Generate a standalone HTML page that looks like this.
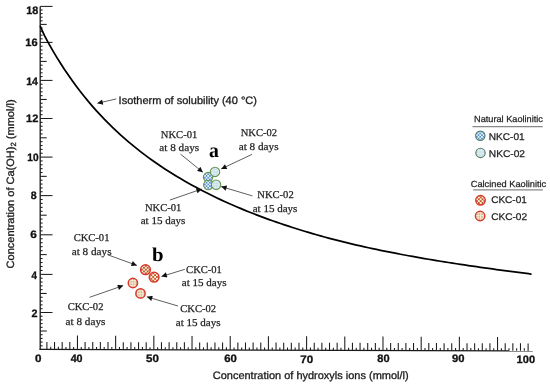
<!DOCTYPE html><html><head><meta charset="utf-8"><title>Ca(OH)2 solubility isotherm</title><style>html,body{margin:0;padding:0;background:#fff;overflow:hidden}svg{display:block}text{text-rendering:geometricPrecision}</style></head><body>
<svg width="550" height="385" viewBox="0 0 550 385">
<defs>
<pattern id="pN1" width="3.4" height="3.4" patternUnits="userSpaceOnUse"><rect width="3.4" height="3.4" fill="#f2f7fb"/><rect width="1.7" height="1.7" fill="#5693d0"/><rect x="1.7" y="1.7" width="1.7" height="1.7" fill="#5693d0"/></pattern>
<pattern id="pN2" width="2.8" height="2.8" patternUnits="userSpaceOnUse"><rect width="2.8" height="2.8" fill="#dcedf3"/><rect x="0.5" y="0.5" width="1.0" height="1.0" fill="#9db7cc"/></pattern>
<pattern id="pC1" width="3.7" height="3.7" patternUnits="userSpaceOnUse" x="0.6" y="0.4"><rect width="3.7" height="3.7" fill="#c25a22"/><rect width="1.85" height="1.85" fill="#fcf3ea"/><rect x="1.85" y="1.85" width="1.85" height="1.85" fill="#fcf3ea"/></pattern>
<pattern id="pC2" width="2.6" height="2.6" patternUnits="userSpaceOnUse"><rect width="2.6" height="2.6" fill="#f3e9d4"/><rect x="0.4" y="0.4" width="1.3" height="1.3" fill="#c79a68"/></pattern>
<marker id="ah" viewBox="0 0 10 10" refX="10" refY="5" markerWidth="7" markerHeight="5.4" markerUnits="userSpaceOnUse" orient="auto"><path d="M0,0 L10,5 L0,10 z" fill="#111"/></marker>
</defs>
<g stroke="#1a1a1a" fill="none">
<line x1="40.2" y1="6.4" x2="40.2" y2="350.00" stroke-width="1.3"/>
<line x1="39.6" y1="349.40" x2="532.7" y2="350.90" stroke-width="1.3"/>
<line x1="40.2" y1="345.80" x2="42.60" y2="345.80" stroke-width="1.05"/>
<line x1="40.2" y1="342.10" x2="42.60" y2="342.10" stroke-width="1.05"/>
<line x1="40.2" y1="338.40" x2="42.60" y2="338.40" stroke-width="1.05"/>
<line x1="40.2" y1="334.70" x2="42.60" y2="334.70" stroke-width="1.05"/>
<line x1="40.2" y1="331.00" x2="46.70" y2="331.00" stroke-width="1.05"/>
<line x1="40.2" y1="327.30" x2="42.60" y2="327.30" stroke-width="1.05"/>
<line x1="40.2" y1="323.60" x2="42.60" y2="323.60" stroke-width="1.05"/>
<line x1="40.2" y1="319.90" x2="42.60" y2="319.90" stroke-width="1.05"/>
<line x1="40.2" y1="316.20" x2="42.60" y2="316.20" stroke-width="1.05"/>
<line x1="40.2" y1="312.50" x2="52.50" y2="312.50" stroke-width="1.05"/>
<line x1="40.2" y1="308.69" x2="42.60" y2="308.69" stroke-width="1.05"/>
<line x1="40.2" y1="304.88" x2="42.60" y2="304.88" stroke-width="1.05"/>
<line x1="40.2" y1="301.07" x2="42.60" y2="301.07" stroke-width="1.05"/>
<line x1="40.2" y1="297.26" x2="42.60" y2="297.26" stroke-width="1.05"/>
<line x1="40.2" y1="293.45" x2="46.70" y2="293.45" stroke-width="1.05"/>
<line x1="40.2" y1="289.64" x2="42.60" y2="289.64" stroke-width="1.05"/>
<line x1="40.2" y1="285.83" x2="42.60" y2="285.83" stroke-width="1.05"/>
<line x1="40.2" y1="282.02" x2="42.60" y2="282.02" stroke-width="1.05"/>
<line x1="40.2" y1="278.21" x2="42.60" y2="278.21" stroke-width="1.05"/>
<line x1="40.2" y1="274.40" x2="52.50" y2="274.40" stroke-width="1.05"/>
<line x1="40.2" y1="270.44" x2="42.60" y2="270.44" stroke-width="1.05"/>
<line x1="40.2" y1="266.48" x2="42.60" y2="266.48" stroke-width="1.05"/>
<line x1="40.2" y1="262.52" x2="42.60" y2="262.52" stroke-width="1.05"/>
<line x1="40.2" y1="258.56" x2="42.60" y2="258.56" stroke-width="1.05"/>
<line x1="40.2" y1="254.60" x2="46.70" y2="254.60" stroke-width="1.05"/>
<line x1="40.2" y1="250.64" x2="42.60" y2="250.64" stroke-width="1.05"/>
<line x1="40.2" y1="246.68" x2="42.60" y2="246.68" stroke-width="1.05"/>
<line x1="40.2" y1="242.72" x2="42.60" y2="242.72" stroke-width="1.05"/>
<line x1="40.2" y1="238.76" x2="42.60" y2="238.76" stroke-width="1.05"/>
<line x1="40.2" y1="234.80" x2="52.50" y2="234.80" stroke-width="1.05"/>
<line x1="40.2" y1="230.88" x2="42.60" y2="230.88" stroke-width="1.05"/>
<line x1="40.2" y1="226.96" x2="42.60" y2="226.96" stroke-width="1.05"/>
<line x1="40.2" y1="223.04" x2="42.60" y2="223.04" stroke-width="1.05"/>
<line x1="40.2" y1="219.12" x2="42.60" y2="219.12" stroke-width="1.05"/>
<line x1="40.2" y1="215.20" x2="46.70" y2="215.20" stroke-width="1.05"/>
<line x1="40.2" y1="211.28" x2="42.60" y2="211.28" stroke-width="1.05"/>
<line x1="40.2" y1="207.36" x2="42.60" y2="207.36" stroke-width="1.05"/>
<line x1="40.2" y1="203.44" x2="42.60" y2="203.44" stroke-width="1.05"/>
<line x1="40.2" y1="199.52" x2="42.60" y2="199.52" stroke-width="1.05"/>
<line x1="40.2" y1="195.60" x2="52.50" y2="195.60" stroke-width="1.05"/>
<line x1="40.2" y1="191.75" x2="42.60" y2="191.75" stroke-width="1.05"/>
<line x1="40.2" y1="187.90" x2="42.60" y2="187.90" stroke-width="1.05"/>
<line x1="40.2" y1="184.05" x2="42.60" y2="184.05" stroke-width="1.05"/>
<line x1="40.2" y1="180.20" x2="42.60" y2="180.20" stroke-width="1.05"/>
<line x1="40.2" y1="176.35" x2="46.70" y2="176.35" stroke-width="1.05"/>
<line x1="40.2" y1="172.50" x2="42.60" y2="172.50" stroke-width="1.05"/>
<line x1="40.2" y1="168.65" x2="42.60" y2="168.65" stroke-width="1.05"/>
<line x1="40.2" y1="164.80" x2="42.60" y2="164.80" stroke-width="1.05"/>
<line x1="40.2" y1="160.95" x2="42.60" y2="160.95" stroke-width="1.05"/>
<line x1="40.2" y1="157.10" x2="52.50" y2="157.10" stroke-width="1.05"/>
<line x1="40.2" y1="153.24" x2="42.60" y2="153.24" stroke-width="1.05"/>
<line x1="40.2" y1="149.38" x2="42.60" y2="149.38" stroke-width="1.05"/>
<line x1="40.2" y1="145.52" x2="42.60" y2="145.52" stroke-width="1.05"/>
<line x1="40.2" y1="141.66" x2="42.60" y2="141.66" stroke-width="1.05"/>
<line x1="40.2" y1="137.80" x2="46.70" y2="137.80" stroke-width="1.05"/>
<line x1="40.2" y1="133.94" x2="42.60" y2="133.94" stroke-width="1.05"/>
<line x1="40.2" y1="130.08" x2="42.60" y2="130.08" stroke-width="1.05"/>
<line x1="40.2" y1="126.22" x2="42.60" y2="126.22" stroke-width="1.05"/>
<line x1="40.2" y1="122.36" x2="42.60" y2="122.36" stroke-width="1.05"/>
<line x1="40.2" y1="118.50" x2="52.50" y2="118.50" stroke-width="1.05"/>
<line x1="40.2" y1="114.69" x2="42.60" y2="114.69" stroke-width="1.05"/>
<line x1="40.2" y1="110.88" x2="42.60" y2="110.88" stroke-width="1.05"/>
<line x1="40.2" y1="107.07" x2="42.60" y2="107.07" stroke-width="1.05"/>
<line x1="40.2" y1="103.26" x2="42.60" y2="103.26" stroke-width="1.05"/>
<line x1="40.2" y1="99.45" x2="46.70" y2="99.45" stroke-width="1.05"/>
<line x1="40.2" y1="95.64" x2="42.60" y2="95.64" stroke-width="1.05"/>
<line x1="40.2" y1="91.83" x2="42.60" y2="91.83" stroke-width="1.05"/>
<line x1="40.2" y1="88.02" x2="42.60" y2="88.02" stroke-width="1.05"/>
<line x1="40.2" y1="84.21" x2="42.60" y2="84.21" stroke-width="1.05"/>
<line x1="40.2" y1="80.40" x2="52.50" y2="80.40" stroke-width="1.05"/>
<line x1="40.2" y1="76.60" x2="42.60" y2="76.60" stroke-width="1.05"/>
<line x1="40.2" y1="72.80" x2="42.60" y2="72.80" stroke-width="1.05"/>
<line x1="40.2" y1="69.00" x2="42.60" y2="69.00" stroke-width="1.05"/>
<line x1="40.2" y1="65.20" x2="42.60" y2="65.20" stroke-width="1.05"/>
<line x1="40.2" y1="61.40" x2="46.70" y2="61.40" stroke-width="1.05"/>
<line x1="40.2" y1="57.60" x2="42.60" y2="57.60" stroke-width="1.05"/>
<line x1="40.2" y1="53.80" x2="42.60" y2="53.80" stroke-width="1.05"/>
<line x1="40.2" y1="50.00" x2="42.60" y2="50.00" stroke-width="1.05"/>
<line x1="40.2" y1="46.20" x2="42.60" y2="46.20" stroke-width="1.05"/>
<line x1="40.2" y1="42.40" x2="52.50" y2="42.40" stroke-width="1.05"/>
<line x1="40.2" y1="38.80" x2="42.60" y2="38.80" stroke-width="1.05"/>
<line x1="40.2" y1="35.20" x2="42.60" y2="35.20" stroke-width="1.05"/>
<line x1="40.2" y1="31.60" x2="42.60" y2="31.60" stroke-width="1.05"/>
<line x1="40.2" y1="28.00" x2="42.60" y2="28.00" stroke-width="1.05"/>
<line x1="40.2" y1="24.40" x2="46.70" y2="24.40" stroke-width="1.05"/>
<line x1="40.2" y1="20.80" x2="42.60" y2="20.80" stroke-width="1.05"/>
<line x1="40.2" y1="17.20" x2="42.60" y2="17.20" stroke-width="1.05"/>
<line x1="40.2" y1="13.60" x2="42.60" y2="13.60" stroke-width="1.05"/>
<line x1="40.2" y1="10.00" x2="42.60" y2="10.00" stroke-width="1.05"/>
<line x1="40.2" y1="6.40" x2="52.50" y2="6.40" stroke-width="1.05"/>
<line x1="46.90" y1="349.42" x2="46.90" y2="341.92" stroke-width="1.05"/>
<line x1="50.72" y1="349.43" x2="50.72" y2="346.83" stroke-width="1.05"/>
<line x1="54.54" y1="349.44" x2="54.54" y2="341.94" stroke-width="1.05"/>
<line x1="58.36" y1="349.46" x2="58.36" y2="346.86" stroke-width="1.05"/>
<line x1="62.18" y1="349.47" x2="62.18" y2="341.97" stroke-width="1.05"/>
<line x1="65.99" y1="349.48" x2="65.99" y2="346.88" stroke-width="1.05"/>
<line x1="69.81" y1="349.49" x2="69.81" y2="341.99" stroke-width="1.05"/>
<line x1="73.63" y1="349.50" x2="73.63" y2="346.90" stroke-width="1.05"/>
<line x1="77.45" y1="349.51" x2="77.45" y2="335.61" stroke-width="1.05"/>
<line x1="81.27" y1="349.53" x2="81.27" y2="346.93" stroke-width="1.05"/>
<line x1="85.09" y1="349.54" x2="85.09" y2="342.04" stroke-width="1.05"/>
<line x1="88.91" y1="349.55" x2="88.91" y2="346.95" stroke-width="1.05"/>
<line x1="92.73" y1="349.56" x2="92.73" y2="342.06" stroke-width="1.05"/>
<line x1="96.55" y1="349.57" x2="96.55" y2="346.97" stroke-width="1.05"/>
<line x1="100.37" y1="349.58" x2="100.37" y2="342.08" stroke-width="1.05"/>
<line x1="104.19" y1="349.59" x2="104.19" y2="346.99" stroke-width="1.05"/>
<line x1="108.01" y1="349.61" x2="108.01" y2="342.11" stroke-width="1.05"/>
<line x1="111.82" y1="349.62" x2="111.82" y2="347.02" stroke-width="1.05"/>
<line x1="115.64" y1="349.63" x2="115.64" y2="335.73" stroke-width="1.05"/>
<line x1="119.46" y1="349.64" x2="119.46" y2="347.04" stroke-width="1.05"/>
<line x1="123.28" y1="349.65" x2="123.28" y2="342.15" stroke-width="1.05"/>
<line x1="127.10" y1="349.66" x2="127.10" y2="347.06" stroke-width="1.05"/>
<line x1="130.92" y1="349.68" x2="130.92" y2="342.18" stroke-width="1.05"/>
<line x1="134.74" y1="349.69" x2="134.74" y2="347.09" stroke-width="1.05"/>
<line x1="138.56" y1="349.70" x2="138.56" y2="342.20" stroke-width="1.05"/>
<line x1="142.38" y1="349.71" x2="142.38" y2="347.11" stroke-width="1.05"/>
<line x1="146.20" y1="349.72" x2="146.20" y2="342.22" stroke-width="1.05"/>
<line x1="150.02" y1="349.73" x2="150.02" y2="347.13" stroke-width="1.05"/>
<line x1="153.84" y1="349.75" x2="153.84" y2="335.85" stroke-width="1.05"/>
<line x1="157.65" y1="349.76" x2="157.65" y2="347.16" stroke-width="1.05"/>
<line x1="161.47" y1="349.77" x2="161.47" y2="342.27" stroke-width="1.05"/>
<line x1="165.29" y1="349.78" x2="165.29" y2="347.18" stroke-width="1.05"/>
<line x1="169.11" y1="349.79" x2="169.11" y2="342.29" stroke-width="1.05"/>
<line x1="172.93" y1="349.80" x2="172.93" y2="347.20" stroke-width="1.05"/>
<line x1="176.75" y1="349.82" x2="176.75" y2="342.32" stroke-width="1.05"/>
<line x1="180.57" y1="349.83" x2="180.57" y2="347.23" stroke-width="1.05"/>
<line x1="184.39" y1="349.84" x2="184.39" y2="342.34" stroke-width="1.05"/>
<line x1="188.21" y1="349.85" x2="188.21" y2="347.25" stroke-width="1.05"/>
<line x1="192.03" y1="349.86" x2="192.03" y2="335.96" stroke-width="1.05"/>
<line x1="195.85" y1="349.87" x2="195.85" y2="347.27" stroke-width="1.05"/>
<line x1="199.66" y1="349.89" x2="199.66" y2="342.39" stroke-width="1.05"/>
<line x1="203.48" y1="349.90" x2="203.48" y2="347.30" stroke-width="1.05"/>
<line x1="207.30" y1="349.91" x2="207.30" y2="342.41" stroke-width="1.05"/>
<line x1="211.12" y1="349.92" x2="211.12" y2="347.32" stroke-width="1.05"/>
<line x1="214.94" y1="349.93" x2="214.94" y2="342.43" stroke-width="1.05"/>
<line x1="218.76" y1="349.94" x2="218.76" y2="347.34" stroke-width="1.05"/>
<line x1="222.58" y1="349.96" x2="222.58" y2="342.46" stroke-width="1.05"/>
<line x1="226.40" y1="349.97" x2="226.40" y2="347.37" stroke-width="1.05"/>
<line x1="230.22" y1="349.98" x2="230.22" y2="336.08" stroke-width="1.05"/>
<line x1="234.04" y1="349.99" x2="234.04" y2="347.39" stroke-width="1.05"/>
<line x1="237.86" y1="350.00" x2="237.86" y2="342.50" stroke-width="1.05"/>
<line x1="241.68" y1="350.01" x2="241.68" y2="347.41" stroke-width="1.05"/>
<line x1="245.49" y1="350.03" x2="245.49" y2="342.53" stroke-width="1.05"/>
<line x1="249.31" y1="350.04" x2="249.31" y2="347.44" stroke-width="1.05"/>
<line x1="253.13" y1="350.05" x2="253.13" y2="342.55" stroke-width="1.05"/>
<line x1="256.95" y1="350.06" x2="256.95" y2="347.46" stroke-width="1.05"/>
<line x1="260.77" y1="350.07" x2="260.77" y2="342.57" stroke-width="1.05"/>
<line x1="264.59" y1="350.08" x2="264.59" y2="347.48" stroke-width="1.05"/>
<line x1="268.41" y1="350.10" x2="268.41" y2="336.20" stroke-width="1.05"/>
<line x1="272.23" y1="350.11" x2="272.23" y2="347.51" stroke-width="1.05"/>
<line x1="276.05" y1="350.12" x2="276.05" y2="342.62" stroke-width="1.05"/>
<line x1="279.87" y1="350.13" x2="279.87" y2="347.53" stroke-width="1.05"/>
<line x1="283.69" y1="350.14" x2="283.69" y2="342.64" stroke-width="1.05"/>
<line x1="287.51" y1="350.15" x2="287.51" y2="347.55" stroke-width="1.05"/>
<line x1="291.32" y1="350.16" x2="291.32" y2="342.66" stroke-width="1.05"/>
<line x1="295.14" y1="350.18" x2="295.14" y2="347.58" stroke-width="1.05"/>
<line x1="298.96" y1="350.19" x2="298.96" y2="342.69" stroke-width="1.05"/>
<line x1="302.78" y1="350.20" x2="302.78" y2="347.60" stroke-width="1.05"/>
<line x1="306.60" y1="350.21" x2="306.60" y2="336.31" stroke-width="1.05"/>
<line x1="310.42" y1="350.22" x2="310.42" y2="347.62" stroke-width="1.05"/>
<line x1="314.24" y1="350.23" x2="314.24" y2="342.73" stroke-width="1.05"/>
<line x1="318.06" y1="350.25" x2="318.06" y2="347.65" stroke-width="1.05"/>
<line x1="321.88" y1="350.26" x2="321.88" y2="342.76" stroke-width="1.05"/>
<line x1="325.70" y1="350.27" x2="325.70" y2="347.67" stroke-width="1.05"/>
<line x1="329.52" y1="350.28" x2="329.52" y2="342.78" stroke-width="1.05"/>
<line x1="333.34" y1="350.29" x2="333.34" y2="347.69" stroke-width="1.05"/>
<line x1="337.15" y1="350.30" x2="337.15" y2="342.80" stroke-width="1.05"/>
<line x1="340.97" y1="350.32" x2="340.97" y2="347.72" stroke-width="1.05"/>
<line x1="344.79" y1="350.33" x2="344.79" y2="336.43" stroke-width="1.05"/>
<line x1="348.61" y1="350.34" x2="348.61" y2="347.74" stroke-width="1.05"/>
<line x1="352.43" y1="350.35" x2="352.43" y2="342.85" stroke-width="1.05"/>
<line x1="356.25" y1="350.36" x2="356.25" y2="347.76" stroke-width="1.05"/>
<line x1="360.07" y1="350.37" x2="360.07" y2="342.87" stroke-width="1.05"/>
<line x1="363.89" y1="350.39" x2="363.89" y2="347.79" stroke-width="1.05"/>
<line x1="367.71" y1="350.40" x2="367.71" y2="342.90" stroke-width="1.05"/>
<line x1="371.53" y1="350.41" x2="371.53" y2="347.81" stroke-width="1.05"/>
<line x1="375.35" y1="350.42" x2="375.35" y2="342.92" stroke-width="1.05"/>
<line x1="379.16" y1="350.43" x2="379.16" y2="347.83" stroke-width="1.05"/>
<line x1="382.98" y1="350.44" x2="382.98" y2="336.54" stroke-width="1.05"/>
<line x1="386.80" y1="350.46" x2="386.80" y2="347.86" stroke-width="1.05"/>
<line x1="390.62" y1="350.47" x2="390.62" y2="342.97" stroke-width="1.05"/>
<line x1="394.44" y1="350.48" x2="394.44" y2="347.88" stroke-width="1.05"/>
<line x1="398.26" y1="350.49" x2="398.26" y2="342.99" stroke-width="1.05"/>
<line x1="402.08" y1="350.50" x2="402.08" y2="347.90" stroke-width="1.05"/>
<line x1="405.90" y1="350.51" x2="405.90" y2="343.01" stroke-width="1.05"/>
<line x1="409.72" y1="350.53" x2="409.72" y2="347.93" stroke-width="1.05"/>
<line x1="413.54" y1="350.54" x2="413.54" y2="343.04" stroke-width="1.05"/>
<line x1="417.36" y1="350.55" x2="417.36" y2="347.95" stroke-width="1.05"/>
<line x1="421.18" y1="350.56" x2="421.18" y2="336.66" stroke-width="1.05"/>
<line x1="424.99" y1="350.57" x2="424.99" y2="347.97" stroke-width="1.05"/>
<line x1="428.81" y1="350.58" x2="428.81" y2="343.08" stroke-width="1.05"/>
<line x1="432.63" y1="350.60" x2="432.63" y2="348.00" stroke-width="1.05"/>
<line x1="436.45" y1="350.61" x2="436.45" y2="343.11" stroke-width="1.05"/>
<line x1="440.27" y1="350.62" x2="440.27" y2="348.02" stroke-width="1.05"/>
<line x1="444.09" y1="350.63" x2="444.09" y2="343.13" stroke-width="1.05"/>
<line x1="447.91" y1="350.64" x2="447.91" y2="348.04" stroke-width="1.05"/>
<line x1="451.73" y1="350.65" x2="451.73" y2="343.15" stroke-width="1.05"/>
<line x1="455.55" y1="350.67" x2="455.55" y2="348.07" stroke-width="1.05"/>
<line x1="459.37" y1="350.68" x2="459.37" y2="336.78" stroke-width="1.05"/>
<line x1="463.19" y1="350.69" x2="463.19" y2="348.09" stroke-width="1.05"/>
<line x1="467.01" y1="350.70" x2="467.01" y2="343.20" stroke-width="1.05"/>
<line x1="470.82" y1="350.71" x2="470.82" y2="348.11" stroke-width="1.05"/>
<line x1="474.64" y1="350.72" x2="474.64" y2="343.22" stroke-width="1.05"/>
<line x1="478.46" y1="350.73" x2="478.46" y2="348.13" stroke-width="1.05"/>
<line x1="482.28" y1="350.75" x2="482.28" y2="343.25" stroke-width="1.05"/>
<line x1="486.10" y1="350.76" x2="486.10" y2="348.16" stroke-width="1.05"/>
<line x1="489.92" y1="350.77" x2="489.92" y2="343.27" stroke-width="1.05"/>
<line x1="493.74" y1="350.78" x2="493.74" y2="348.18" stroke-width="1.05"/>
<line x1="497.56" y1="350.79" x2="497.56" y2="336.89" stroke-width="1.05"/>
<line x1="501.38" y1="350.80" x2="501.38" y2="348.20" stroke-width="1.05"/>
<line x1="505.20" y1="350.82" x2="505.20" y2="343.32" stroke-width="1.05"/>
<line x1="509.02" y1="350.83" x2="509.02" y2="348.23" stroke-width="1.05"/>
<line x1="512.84" y1="350.84" x2="512.84" y2="343.34" stroke-width="1.05"/>
<line x1="516.65" y1="350.85" x2="516.65" y2="348.25" stroke-width="1.05"/>
<line x1="520.47" y1="350.86" x2="520.47" y2="343.36" stroke-width="1.05"/>
<line x1="524.29" y1="350.87" x2="524.29" y2="348.27" stroke-width="1.05"/>
<line x1="528.11" y1="350.89" x2="528.11" y2="343.39" stroke-width="1.05"/>
</g>
<path d="M40.40,26.5 L44.50,35.70 L48.50,43.06 L52.50,50.10 L56.50,56.83 L60.50,63.27 L64.50,69.44 L68.50,75.35 L72.50,81.03 L76.50,86.49 L80.50,91.73 L84.50,96.78 L88.50,101.64 L92.50,106.32 L96.50,110.83 L100.50,115.18 L104.50,119.39 L108.50,123.45 L112.50,127.37 L116.50,131.17 L120.50,134.85 L124.50,138.40 L128.50,141.85 L132.50,145.20 L136.50,148.44 L140.50,151.58 L144.50,154.64 L148.50,157.60 L152.50,160.49 L156.50,163.29 L160.50,166.02 L164.50,168.67 L168.50,171.26 L172.50,173.77 L176.50,176.22 L180.50,178.61 L184.50,180.94 L188.50,183.22 L192.50,185.44 L196.50,187.60 L200.50,189.72 L204.50,191.79 L208.50,193.80 L212.50,195.78 L216.50,197.71 L220.50,199.59 L224.50,201.44 L228.50,203.24 L232.50,205.01 L236.50,206.74 L240.50,208.43 L244.50,210.08 L248.50,211.70 L252.50,213.29 L256.50,214.85 L260.50,216.37 L264.50,217.86 L268.50,219.32 L272.50,220.76 L276.50,222.16 L280.50,223.53 L284.50,224.88 L288.50,226.20 L292.50,227.50 L296.50,228.77 L300.50,230.01 L304.50,231.23 L308.50,232.42 L312.50,233.59 L316.50,234.74 L320.50,235.87 L324.50,236.97 L328.50,238.05 L332.50,239.11 L336.50,240.14 L340.50,241.16 L344.50,242.16 L348.50,243.13 L352.50,244.09 L356.50,245.03 L360.50,245.95 L364.50,246.85 L368.50,247.73 L372.50,248.60 L376.50,249.45 L380.50,250.29 L384.50,251.11 L388.50,251.92 L392.50,252.71 L396.50,253.48 L400.50,254.25 L404.50,255.00 L408.50,255.74 L412.50,256.47 L416.50,257.18 L420.50,257.88 L424.50,258.57 L428.50,259.25 L432.50,259.93 L436.50,260.59 L440.50,261.24 L444.50,261.88 L448.50,262.51 L452.50,263.13 L456.50,263.75 L460.50,264.36 L464.50,264.95 L468.50,265.55 L472.50,266.13 L476.50,266.71 L480.50,267.28 L484.50,267.85 L488.50,268.40 L492.50,268.96 L496.50,269.51 L500.50,270.05 L504.50,270.59 L508.50,271.12 L512.50,271.65 L516.50,272.18 L520.50,272.70 L524.50,273.21 L528.50,273.73 L530.90,274.04" fill="none" stroke="#000" stroke-width="1.75" stroke-linecap="round" stroke-linejoin="round"/>
<g stroke="#2a2a2a" stroke-width="0.75" fill="none">
<line x1="116.3" y1="98.9" x2="97.4" y2="103.3" marker-end="url(#ah)"/>
<line x1="180.5" y1="154.1" x2="202.9" y2="172.3" marker-end="url(#ah)"/>
<line x1="252" y1="154.4" x2="221.2" y2="168.9" marker-end="url(#ah)"/>
<line x1="252.4" y1="195.9" x2="221.2" y2="186.6" marker-end="url(#ah)"/>
<line x1="169.8" y1="200.1" x2="201.8" y2="189" marker-end="url(#ah)"/>
<line x1="108.3" y1="255" x2="136.9" y2="265.4" marker-end="url(#ah)"/>
<line x1="184.8" y1="269.3" x2="161.5" y2="276.5" marker-end="url(#ah)"/>
<line x1="89.6" y1="297.3" x2="123.2" y2="285.6" marker-end="url(#ah)"/>
<line x1="178" y1="306" x2="146.9" y2="296.8" marker-end="url(#ah)"/>
</g>
<circle cx="208.1" cy="177.1" r="4.7" fill="url(#pN1)" stroke="#62964f" stroke-width="1.1"/>
<circle cx="215" cy="171.9" r="4.7" fill="url(#pN2)" stroke="#62964f" stroke-width="1.1"/>
<circle cx="208.3" cy="185" r="4.7" fill="url(#pN1)" stroke="#62964f" stroke-width="1.1"/>
<circle cx="216.1" cy="184.7" r="4.7" fill="url(#pN2)" stroke="#62964f" stroke-width="1.1"/>
<circle cx="145.5" cy="269.7" r="4.85" fill="url(#pC1)" stroke="#d73a2b" stroke-width="1.5"/>
<circle cx="154.1" cy="277.2" r="4.85" fill="url(#pC1)" stroke="#d73a2b" stroke-width="1.5"/>
<circle cx="132.9" cy="283.0" r="4.65" fill="url(#pC2)" stroke="#d6392d" stroke-width="1.5"/>
<circle cx="140.5" cy="293.4" r="4.65" fill="url(#pC2)" stroke="#d6392d" stroke-width="1.5"/>
<line x1="472.5" y1="126.7" x2="542.7" y2="126.7" stroke="#888" stroke-width="1.3"/>
<line x1="473.2" y1="189.9" x2="542.9" y2="189.9" stroke="#888" stroke-width="1.3"/>
<circle cx="480.3" cy="135.7" r="4.65" fill="url(#pN1)" stroke="#4f8070" stroke-width="1.2"/>
<circle cx="480.5" cy="152.9" r="4.65" fill="url(#pN2)" stroke="#557f66" stroke-width="1.2"/>
<circle cx="480.5" cy="200.3" r="4.75" fill="url(#pC1)" stroke="#d73a2b" stroke-width="1.4"/>
<circle cx="480.1" cy="216" r="4.75" fill="url(#pC2)" stroke="#d6392d" stroke-width="1.4"/>
<text x="160.85" y="137.7" font-family="'Liberation Serif', 'Times New Roman', serif" font-size="10.5" font-weight="normal" fill="#222" textLength="36.43" lengthAdjust="spacingAndGlyphs" stroke="#222" stroke-width="0.25">NKC-01</text>
<text x="159.32" y="151.1" font-family="'Liberation Serif', 'Times New Roman', serif" font-size="10.5" font-weight="normal" fill="#222" textLength="39.78" lengthAdjust="spacingAndGlyphs" stroke="#222" stroke-width="0.25">at 8 days</text>
<text x="240.65" y="135.7" font-family="'Liberation Serif', 'Times New Roman', serif" font-size="10.5" font-weight="normal" fill="#222" textLength="36.43" lengthAdjust="spacingAndGlyphs" stroke="#222" stroke-width="0.25">NKC-02</text>
<text x="238.72" y="149.8" font-family="'Liberation Serif', 'Times New Roman', serif" font-size="10.5" font-weight="normal" fill="#222" textLength="39.78" lengthAdjust="spacingAndGlyphs" stroke="#222" stroke-width="0.25">at 8 days</text>
<text x="257.25" y="197.9" font-family="'Liberation Serif', 'Times New Roman', serif" font-size="10.5" font-weight="normal" fill="#222" textLength="36.43" lengthAdjust="spacingAndGlyphs" stroke="#222" stroke-width="0.25">NKC-02</text>
<text x="252.67" y="212.4" font-family="'Liberation Serif', 'Times New Roman', serif" font-size="10.5" font-weight="normal" fill="#222" textLength="44.77" lengthAdjust="spacingAndGlyphs" stroke="#222" stroke-width="0.25">at 15 days</text>
<text x="144.95" y="211" font-family="'Liberation Serif', 'Times New Roman', serif" font-size="10.5" font-weight="normal" fill="#222" textLength="36.43" lengthAdjust="spacingAndGlyphs" stroke="#222" stroke-width="0.25">NKC-01</text>
<text x="140.67" y="224.4" font-family="'Liberation Serif', 'Times New Roman', serif" font-size="10.5" font-weight="normal" fill="#222" textLength="44.77" lengthAdjust="spacingAndGlyphs" stroke="#222" stroke-width="0.25">at 15 days</text>
<text x="73.65" y="240.6" font-family="'Liberation Serif', 'Times New Roman', serif" font-size="10.5" font-weight="normal" fill="#222" textLength="35.80" lengthAdjust="spacingAndGlyphs" stroke="#222" stroke-width="0.25">CKC-01</text>
<text x="71.72" y="254.6" font-family="'Liberation Serif', 'Times New Roman', serif" font-size="10.5" font-weight="normal" fill="#222" textLength="39.78" lengthAdjust="spacingAndGlyphs" stroke="#222" stroke-width="0.25">at 8 days</text>
<text x="186.10" y="272.7" font-family="'Liberation Serif', 'Times New Roman', serif" font-size="10.5" font-weight="normal" fill="#222" textLength="35.80" lengthAdjust="spacingAndGlyphs" stroke="#222" stroke-width="0.25">CKC-01</text>
<text x="181.82" y="286.3" font-family="'Liberation Serif', 'Times New Roman', serif" font-size="10.5" font-weight="normal" fill="#222" textLength="44.77" lengthAdjust="spacingAndGlyphs" stroke="#222" stroke-width="0.25">at 15 days</text>
<text x="67.65" y="310.1" font-family="'Liberation Serif', 'Times New Roman', serif" font-size="10.5" font-weight="normal" fill="#222" textLength="35.80" lengthAdjust="spacingAndGlyphs" stroke="#222" stroke-width="0.25">CKC-02</text>
<text x="65.57" y="324.6" font-family="'Liberation Serif', 'Times New Roman', serif" font-size="10.5" font-weight="normal" fill="#222" textLength="39.78" lengthAdjust="spacingAndGlyphs" stroke="#222" stroke-width="0.25">at 8 days</text>
<text x="180.25" y="311.5" font-family="'Liberation Serif', 'Times New Roman', serif" font-size="10.5" font-weight="normal" fill="#222" textLength="35.80" lengthAdjust="spacingAndGlyphs" stroke="#222" stroke-width="0.25">CKC-02</text>
<text x="175.77" y="325.9" font-family="'Liberation Serif', 'Times New Roman', serif" font-size="10.5" font-weight="normal" fill="#222" textLength="44.77" lengthAdjust="spacingAndGlyphs" stroke="#222" stroke-width="0.25">at 15 days</text>
<text x="208.98" y="156.9" font-family="'Liberation Serif', 'Times New Roman', serif" font-size="20.5" font-weight="bold" fill="#000" textLength="9.86" lengthAdjust="spacingAndGlyphs" >a</text>
<text x="151.93" y="261.4" font-family="'Liberation Serif', 'Times New Roman', serif" font-size="19.5" font-weight="bold" fill="#000" textLength="11.58" lengthAdjust="spacingAndGlyphs" >b</text>
<text x="118.58" y="103.9" font-family="'Liberation Sans', Arial, sans-serif" font-size="10.8" font-weight="normal" fill="#1a1a1a" textLength="138.37" lengthAdjust="spacingAndGlyphs" stroke="#1a1a1a" stroke-width="0.3">Isotherm of solubility (40 °C)</text>
<text x="212.79" y="378.7" font-family="'Liberation Sans', Arial, sans-serif" font-size="10.8" font-weight="normal" fill="#1a1a1a" textLength="195.84" lengthAdjust="spacingAndGlyphs" stroke="#1a1a1a" stroke-width="0.3">Concentration of hydroxyls ions (mmol/l)</text>
<text x="474.02" y="121.9" font-family="'Liberation Sans', Arial, sans-serif" font-size="8.9" font-weight="normal" fill="#2a2a2a" textLength="68.93" lengthAdjust="spacingAndGlyphs" stroke="#222" stroke-width="0.25">Natural Kaolinitic</text>
<text x="470.78" y="186.7" font-family="'Liberation Sans', Arial, sans-serif" font-size="8.9" font-weight="normal" fill="#2a2a2a" textLength="75.41" lengthAdjust="spacingAndGlyphs" stroke="#222" stroke-width="0.25">Calcined Kaolinitic</text>
<text x="488.82" y="139.9" font-family="'Liberation Sans', Arial, sans-serif" font-size="9.7" font-weight="normal" fill="#222" textLength="35.87" lengthAdjust="spacingAndGlyphs" stroke="#222" stroke-width="0.25">NKC-01</text>
<text x="488.81" y="157.1" font-family="'Liberation Sans', Arial, sans-serif" font-size="9.7" font-weight="normal" fill="#222" textLength="36.18" lengthAdjust="spacingAndGlyphs" stroke="#222" stroke-width="0.25">NKC-02</text>
<text x="491.18" y="203.3" font-family="'Liberation Sans', Arial, sans-serif" font-size="9.7" font-weight="normal" fill="#222" textLength="35.70" lengthAdjust="spacingAndGlyphs" stroke="#222" stroke-width="0.25">CKC-01</text>
<text x="491.18" y="219.6" font-family="'Liberation Sans', Arial, sans-serif" font-size="9.7" font-weight="normal" fill="#222" textLength="35.91" lengthAdjust="spacingAndGlyphs" stroke="#222" stroke-width="0.25">CKC-02</text>
<text x="34.96" y="362.4" font-family="'Liberation Sans', Arial, sans-serif" font-size="10.8" font-weight="bold" fill="#111" textLength="6.50" lengthAdjust="spacingAndGlyphs" stroke="#111" stroke-width="0.3">0</text>
<text x="70.65" y="361.6" font-family="'Liberation Sans', Arial, sans-serif" font-size="10.8" font-weight="bold" fill="#111" textLength="11.96" lengthAdjust="spacingAndGlyphs" stroke="#111" stroke-width="0.3">40</text>
<text x="145.96" y="361.7" font-family="'Liberation Sans', Arial, sans-serif" font-size="10.8" font-weight="bold" fill="#111" textLength="12.89" lengthAdjust="spacingAndGlyphs" stroke="#111" stroke-width="0.3">50</text>
<text x="224.27" y="361.7" font-family="'Liberation Sans', Arial, sans-serif" font-size="10.8" font-weight="bold" fill="#111" textLength="12.67" lengthAdjust="spacingAndGlyphs" stroke="#111" stroke-width="0.3">60</text>
<text x="300.36" y="362.9" font-family="'Liberation Sans', Arial, sans-serif" font-size="10.8" font-weight="bold" fill="#111" textLength="12.89" lengthAdjust="spacingAndGlyphs" stroke="#111" stroke-width="0.3">70</text>
<text x="377.34" y="362.3" font-family="'Liberation Sans', Arial, sans-serif" font-size="10.8" font-weight="bold" fill="#111" textLength="12.28" lengthAdjust="spacingAndGlyphs" stroke="#111" stroke-width="0.3">80</text>
<text x="452.08" y="362.3" font-family="'Liberation Sans', Arial, sans-serif" font-size="10.8" font-weight="bold" fill="#111" textLength="12.56" lengthAdjust="spacingAndGlyphs" stroke="#111" stroke-width="0.3">90</text>
<text x="516.63" y="362.5" font-family="'Liberation Sans', Arial, sans-serif" font-size="10.8" font-weight="bold" fill="#111" textLength="18.39" lengthAdjust="spacingAndGlyphs" stroke="#111" stroke-width="0.3">100</text>
<text x="26.15" y="14.3" font-family="'Liberation Sans', Arial, sans-serif" font-size="10.8" font-weight="bold" fill="#111" textLength="12.02" lengthAdjust="spacingAndGlyphs" stroke="#111" stroke-width="0.3">18</text>
<text x="25.33" y="45.6" font-family="'Liberation Sans', Arial, sans-serif" font-size="10.8" font-weight="bold" fill="#111" textLength="12.41" lengthAdjust="spacingAndGlyphs" stroke="#111" stroke-width="0.3">16</text>
<text x="26.17" y="84.5" font-family="'Liberation Sans', Arial, sans-serif" font-size="10.8" font-weight="bold" fill="#111" textLength="11.75" lengthAdjust="spacingAndGlyphs" stroke="#111" stroke-width="0.3">14</text>
<text x="26.13" y="122.1" font-family="'Liberation Sans', Arial, sans-serif" font-size="10.8" font-weight="bold" fill="#111" textLength="12.30" lengthAdjust="spacingAndGlyphs" stroke="#111" stroke-width="0.3">12</text>
<text x="27.30" y="160.9" font-family="'Liberation Sans', Arial, sans-serif" font-size="10.8" font-weight="bold" fill="#111" textLength="11.29" lengthAdjust="spacingAndGlyphs" stroke="#111" stroke-width="0.3">10</text>
<text x="30.65" y="199.0" font-family="'Liberation Sans', Arial, sans-serif" font-size="10.8" font-weight="bold" fill="#111" textLength="5.91" lengthAdjust="spacingAndGlyphs" stroke="#111" stroke-width="0.3">8</text>
<text x="30.35" y="238.0" font-family="'Liberation Sans', Arial, sans-serif" font-size="10.8" font-weight="bold" fill="#111" textLength="6.62" lengthAdjust="spacingAndGlyphs" stroke="#111" stroke-width="0.3">6</text>
<text x="31.47" y="278.5" font-family="'Liberation Sans', Arial, sans-serif" font-size="10.8" font-weight="bold" fill="#111" textLength="5.44" lengthAdjust="spacingAndGlyphs" stroke="#111" stroke-width="0.3">4</text>
<text x="31.40" y="316.6" font-family="'Liberation Sans', Arial, sans-serif" font-size="10.8" font-weight="bold" fill="#111" textLength="6.02" lengthAdjust="spacingAndGlyphs" stroke="#111" stroke-width="0.3">2</text>
<text transform="translate(13.9,268.4) rotate(-90)" font-family="'Liberation Sans', Arial, sans-serif" font-size="10.7" fill="#1a1a1a" stroke="#1a1a1a" stroke-width="0.3" textLength="169" lengthAdjust="spacingAndGlyphs">Concentration of Ca(OH)<tspan font-size="7.5" dy="2">2</tspan><tspan dy="-2"> (mmol/l)</tspan></text>
</svg></body></html>
